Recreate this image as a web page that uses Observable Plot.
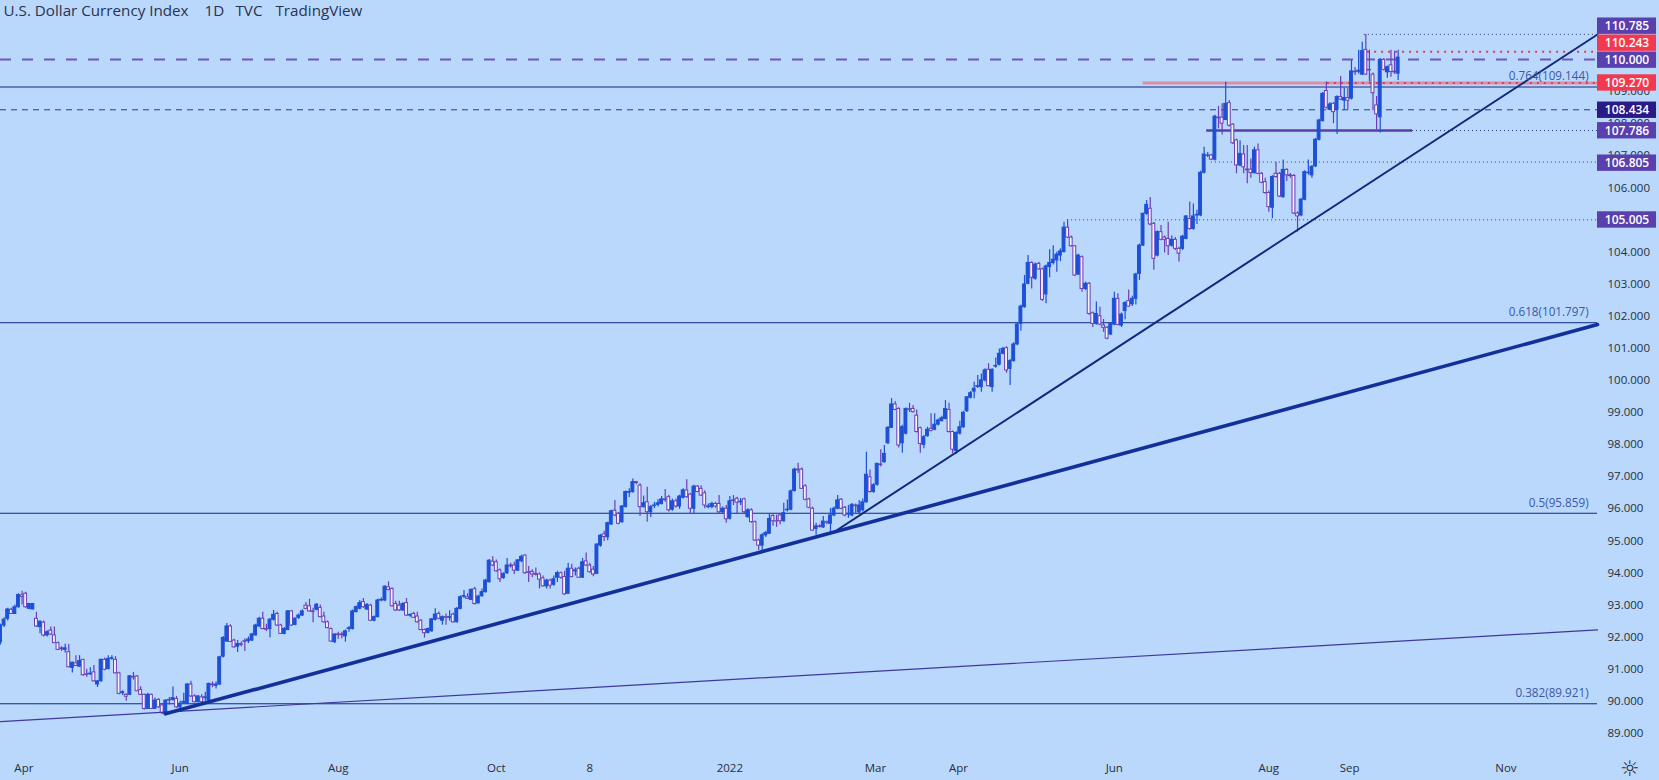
<!DOCTYPE html>
<html>
<head>
<meta charset="utf-8">
<style>html,body{margin:0;padding:0;background:#b9d8fb}svg{display:block}</style>
<script src="https://cdn.jsdelivr.net/npm/d3@7"></script>
<script src="https://cdn.jsdelivr.net/npm/@observablehq/plot@0.6"></script>
</head>
<body>
<div id="chart"></div>
<script>
const opens = [
91.84,92.36,92.57,92.85,92.72,92.93,93.3,93.35,92.88,92.86,
92.57,92.31,92.45,92.05,92.2,92.05,91.81,91.65,91.6,91.53,
91.04,91.18,91.08,91.29,90.84,90.84,90.9,90.52,90.62,91.29,
91.0,91.32,91.29,90.87,90.25,90.2,90.2,90.76,90.77,90.35,
90.2,89.76,90.2,89.76,90.04,89.87,89.6,90.04,90.04,90.07,
89.81,89.95,89.92,90.52,90.15,89.97,90.12,90.1,90.02,90.52,
90.48,90.52,91.39,91.86,92.33,91.89,91.7,91.78,91.87,91.87,
91.89,92.05,92.33,92.57,92.25,92.25,92.54,92.72,92.36,92.1,
92.22,92.8,92.38,92.6,92.67,92.98,92.96,92.8,92.85,92.91,
92.64,92.46,92.25,91.84,92.08,92.08,92.02,92.25,92.25,92.78,
92.88,93.09,92.86,92.98,92.51,92.62,93.14,93.14,93.55,93.5,
93.03,92.98,92.83,93.06,92.67,92.72,92.64,92.51,92.22,92.13,
92.18,92.54,92.72,92.51,92.62,92.6,92.7,92.46,92.88,93.26,
93.24,93.16,93.49,93.05,93.27,93.4,93.71,94.35,94.33,94.08,
93.84,93.99,94.23,94.23,94.07,94.36,94.54,94.02,94.03,93.97,
93.95,93.83,93.58,93.76,93.63,93.85,93.99,93.87,93.35,94.13,
94.05,94.13,93.85,94.36,94.23,94.1,93.97,94.85,95.2,95.11,
95.51,95.94,95.84,95.58,96.05,96.5,96.52,96.83,96.72,96.05,
96.2,95.89,96.08,96.12,96.15,96.29,96.36,95.97,96.23,96.07,
96.34,96.57,96.44,96.0,96.69,96.62,96.48,96.05,96.05,96.15,
96.15,95.89,96.0,95.69,96.26,96.31,96.2,96.29,95.74,95.95,
95.58,95.01,94.85,95.17,95.22,95.77,95.61,95.79,95.61,95.95,
95.97,96.55,97.22,97.22,96.7,96.29,96.0,95.37,95.45,95.42,
95.58,95.53,95.79,96.0,96.28,96.03,95.82,95.79,96.1,95.89,
95.95,96.2,96.98,96.52,96.75,97.38,97.45,98.04,98.52,99.25,
99.11,98.04,98.34,99.1,99.11,98.9,98.51,97.99,98.26,98.49,
98.46,98.62,98.73,98.8,99.08,98.39,97.8,98.34,98.54,99.04,
99.46,99.65,99.8,99.79,100.0,100.33,99.79,100.43,100.49,100.83,
101.0,100.36,100.6,101.12,101.76,102.28,103.01,103.66,103.17,103.63,
103.46,102.68,103.53,103.66,103.74,103.89,104.0,104.76,104.45,104.18,
103.3,103.84,102.85,103.01,102.09,101.76,102.0,101.71,101.64,101.43,
101.74,102.54,101.71,102.16,102.47,102.37,102.54,103.32,104.2,105.19,
105.35,104.88,103.89,104.62,104.45,104.41,104.2,104.38,104.1,104.1,
104.41,105.03,104.72,105.14,105.14,106.47,107.0,107.01,106.88,108.19,
108.19,108.12,108.64,107.97,107.48,106.7,107.04,106.57,106.57,106.46,
107.17,106.44,106.18,105.84,105.38,106.44,106.44,105.71,106.56,106.39,
106.37,105.2,105.14,105.63,106.46,106.39,106.67,107.5,108.08,109.02,
108.43,108.62,108.43,108.83,108.72,108.8,108.78,109.62,109.62,109.53,
110.3,109.68,109.53,108.57,108.2,109.99,109.6,109.82,109.62,109.56];
const closes = [
92.36,92.54,92.86,92.72,92.93,93.31,93.25,92.93,93.03,93.03,
92.33,92.48,92.05,92.15,92.08,91.81,91.6,91.62,91.65,91.06,
91.2,91.1,91.25,90.81,90.82,90.86,90.62,90.62,91.29,90.98,
91.32,91.34,90.87,90.23,90.28,90.14,90.78,90.74,90.31,90.2,
89.76,90.2,89.76,90.02,89.81,89.63,90.02,90.02,90.1,89.81,
89.92,89.98,90.52,90.15,89.97,90.15,89.97,90.12,90.54,90.5,
90.52,91.37,91.97,92.33,91.85,91.68,91.78,91.75,91.85,91.92,
92.08,92.36,92.57,92.25,92.23,92.54,92.69,92.36,92.1,92.25,
92.8,92.36,92.57,92.67,92.8,92.88,92.8,92.78,93.01,92.62,
92.46,92.28,91.86,92.08,92.06,92.06,92.18,92.27,92.8,92.93,
93.06,92.93,93.0,92.51,92.62,93.14,93.16,93.57,93.47,92.96,
92.83,92.83,93.03,92.67,92.69,92.6,92.46,92.22,92.12,92.25,
92.55,92.7,92.57,92.62,92.6,92.62,92.46,92.88,93.24,93.28,
93.19,93.47,93.03,93.26,93.4,93.76,94.38,94.23,94.05,93.8,
93.97,94.23,94.2,94.07,94.39,94.5,93.99,94.0,93.95,93.94,
93.79,93.58,93.76,93.6,93.8,93.99,93.85,93.33,94.13,93.87,
94.08,93.85,94.33,94.23,94.02,93.95,94.88,95.16,95.12,95.55,
95.92,95.79,95.53,96.07,96.52,96.52,96.83,96.8,96.05,96.17,
95.89,96.05,96.1,96.17,96.29,96.27,95.95,96.23,96.07,96.38,
96.57,96.36,96.0,96.69,96.52,96.41,96.1,96.07,96.15,96.07,
95.89,96.0,95.67,96.23,96.24,96.19,96.22,95.89,95.95,95.58,
95.01,94.85,95.17,95.24,95.68,95.61,95.6,95.61,95.86,95.97,
96.54,97.22,97.2,96.62,96.28,96.03,95.32,95.45,95.43,95.6,
95.56,95.79,96.0,96.26,96.0,95.79,95.84,96.12,96.08,96.1,
96.2,97.06,96.52,96.73,97.4,97.36,97.71,98.52,99.25,99.08,
97.97,98.54,99.11,99.08,99.01,98.39,98.02,98.23,98.46,98.42,
98.62,98.75,98.82,99.11,98.39,97.84,98.36,98.54,98.99,99.47,
99.6,99.74,99.82,100.0,100.31,99.82,100.33,100.45,100.83,100.98,
100.31,100.6,101.12,101.74,102.3,102.99,103.66,103.2,103.61,103.46,
102.51,103.55,103.66,103.76,103.92,104.02,104.76,104.45,104.18,103.27,
103.89,102.85,103.01,102.07,101.76,102.07,101.74,101.64,101.3,101.76,
102.54,101.73,102.05,102.41,102.3,102.54,103.3,104.2,105.19,105.47,
104.86,103.79,104.62,104.38,104.38,104.18,104.38,104.1,103.95,104.48,
105.11,104.72,105.11,105.16,106.47,107.04,107.01,106.88,108.22,108.17,
108.0,108.62,107.94,107.39,106.7,107.06,106.64,106.55,106.46,107.17,
106.44,106.16,105.84,105.4,106.34,106.34,105.73,106.56,106.39,106.37,
105.2,105.11,105.63,106.49,106.47,106.65,107.5,108.1,108.93,108.5,
108.6,108.36,108.83,108.75,108.8,108.72,109.63,109.6,109.65,110.26,
109.53,109.66,108.95,108.29,109.99,109.68,109.76,109.61,109.6,110.06];
const highs = [
92.4,92.6,92.9,92.9,93.0,93.35,93.43,93.4,93.05,93.05,
92.77,92.5,92.5,92.2,92.31,92.31,91.85,91.7,91.78,91.77,
91.22,91.42,91.42,91.3,91.0,91.04,91.11,90.65,91.32,91.35,
91.42,91.42,91.39,90.9,90.33,90.23,90.8,90.9,90.8,90.45,
90.22,90.25,90.22,90.1,90.08,89.9,90.05,90.12,90.44,90.15,
90.0,90.25,90.55,90.62,90.2,90.18,90.2,90.28,90.57,90.6,
90.6,91.4,92.02,92.42,92.38,91.93,91.89,91.85,91.95,92.0,
92.12,92.4,92.62,92.77,92.4,92.58,92.83,92.77,92.4,92.3,
92.83,92.83,92.6,92.72,92.85,93.08,93.18,92.9,93.05,93.0,
92.77,92.5,92.28,92.1,92.15,92.15,92.22,92.33,92.84,92.97,
93.14,93.2,93.05,93.02,92.66,93.18,93.22,93.6,93.72,93.53,
93.12,93.12,93.07,93.2,92.72,92.77,92.77,92.54,92.25,92.28,
92.58,92.88,92.78,92.66,92.72,92.82,92.74,92.92,93.28,93.45,
93.35,93.5,93.55,93.3,93.5,93.8,94.42,94.5,94.4,94.12,
94.0,94.45,94.3,94.33,94.42,94.55,94.56,94.2,94.1,94.15,
94.0,93.9,93.8,93.8,93.9,94.05,94.03,94.05,94.3,94.27,
94.15,94.18,94.45,94.62,94.3,94.2,94.92,95.2,95.3,95.58,
95.95,96.26,95.88,96.1,96.55,96.62,96.93,96.85,96.78,96.4,
96.67,96.1,96.2,96.28,96.38,96.6,96.42,96.3,96.3,96.42,
96.62,96.9,96.48,96.73,96.72,96.72,96.55,96.15,96.2,96.2,
96.41,96.05,96.1,96.38,96.41,96.36,96.32,96.33,96.0,96.0,
95.62,95.05,95.22,95.3,95.85,95.82,95.8,95.85,96.17,96.27,
96.58,97.26,97.42,97.27,96.75,96.33,96.05,95.55,95.5,95.76,
95.62,96.0,96.05,96.41,96.32,96.07,96.1,96.16,96.15,96.26,
96.3,97.76,97.21,96.78,97.42,97.84,97.97,98.56,99.43,99.34,
99.15,98.6,99.14,99.29,99.22,99.08,98.55,98.28,98.54,98.96,
98.96,98.8,98.88,99.37,99.29,98.42,98.4,98.73,99.03,99.5,
99.65,99.94,100.15,100.2,100.36,100.52,100.36,100.7,100.98,101.03,
101.05,100.65,101.17,101.78,102.34,103.27,103.89,103.7,103.66,103.68,
103.5,103.6,104.07,104.2,104.0,104.1,104.93,105.01,104.5,104.2,
103.93,103.88,103.06,103.05,102.13,102.44,102.28,101.9,101.68,101.8,
102.75,102.7,102.1,102.45,102.82,102.62,103.34,104.25,105.22,105.61,
105.7,104.92,104.66,104.83,104.5,104.93,104.5,104.45,104.15,104.52,
105.14,105.56,105.5,105.3,106.52,107.27,107.1,107.05,108.26,108.54,
108.62,109.29,108.72,108.0,107.52,107.47,107.32,107.32,106.9,107.27,
107.37,106.48,106.3,105.9,106.38,106.8,106.48,106.87,106.6,106.45,
106.42,105.25,105.67,106.53,106.87,106.7,107.54,108.14,108.97,109.3,
108.65,108.66,108.87,109.47,109.1,109.1,109.97,109.75,110.29,110.54,
110.78,110.29,109.58,108.85,110.03,110.03,109.8,110.29,110.26,110.29];
const lows = [
91.75,92.3,92.5,92.7,92.7,92.9,93.0,92.9,92.85,92.85,
92.3,92.1,92.0,92.0,92.05,91.8,91.58,91.55,91.5,91.04,
90.88,91.08,91.05,90.78,90.75,90.8,90.6,90.43,90.6,90.95,
90.98,91.28,90.85,90.2,90.18,90.0,90.18,90.66,90.3,90.18,
89.72,89.74,89.74,89.74,89.78,89.58,89.55,89.88,90.0,89.78,
89.7,89.9,89.9,90.12,89.95,89.95,89.95,90.0,90.0,90.42,
90.38,90.5,91.35,91.84,91.83,91.65,91.52,91.7,91.55,91.8,
91.87,92.03,92.3,92.23,92.17,91.98,92.5,92.33,92.08,92.07,
92.2,92.33,92.35,92.55,92.64,92.85,92.78,92.45,92.82,92.6,
92.43,92.26,91.84,91.8,91.93,91.95,91.84,92.15,92.22,92.75,
92.85,92.9,92.83,92.49,92.48,92.6,93.1,93.1,93.44,92.94,
92.8,92.8,92.8,92.65,92.62,92.58,92.44,92.2,91.97,92.1,
92.15,92.5,92.54,92.37,92.37,92.5,92.44,92.44,92.85,93.2,
93.17,93.14,93.0,93.03,93.25,93.37,93.68,94.2,94.02,93.7,
93.8,93.95,94.15,93.95,94.05,94.32,93.96,93.7,93.85,93.9,
93.5,93.56,93.5,93.5,93.58,93.7,93.8,93.3,93.33,93.85,
93.9,93.83,93.83,94.2,94.0,93.88,93.95,94.8,94.98,95.0,
95.48,95.75,95.5,95.55,96.02,96.35,96.48,96.75,95.76,96.02,
95.58,95.73,96.0,96.05,96.12,96.2,95.9,95.92,96.02,95.98,
96.3,96.33,95.83,95.83,96.5,96.38,96.0,96.0,96.0,96.02,
95.85,95.85,95.55,95.65,96.1,95.84,96.1,95.85,95.7,95.55,
94.98,94.7,94.64,95.1,95.2,95.45,95.42,95.5,95.58,95.9,
95.94,96.52,97.1,96.6,96.25,96.0,95.3,95.17,95.4,95.38,
95.5,95.27,95.75,95.97,95.97,95.75,95.7,95.75,95.82,95.85,
95.9,96.17,96.49,96.48,96.7,97.3,97.42,98.0,98.5,99.05,
97.89,97.73,98.3,99.0,98.98,98.36,97.73,97.87,98.23,98.4,
98.43,98.58,98.7,98.77,98.36,97.71,97.7,98.3,98.5,99.0,
99.42,99.43,99.75,99.63,99.95,99.8,99.63,100.38,100.45,100.8,
100.22,99.84,100.57,101.08,101.53,102.25,102.98,102.85,103.12,103.43,
102.46,102.39,103.2,103.6,103.37,103.7,103.97,104.42,104.15,103.24,
103.27,102.75,102.8,102.03,101.65,101.72,101.7,101.5,101.27,101.4,
101.7,101.7,101.65,101.89,102.28,102.3,102.35,103.11,104.17,105.15,
104.82,103.43,103.85,104.35,103.97,103.89,104.15,104.05,103.69,104.05,
104.38,104.68,104.68,104.86,105.1,106.43,106.95,106.85,106.84,107.84,
107.65,108.1,107.9,107.35,106.44,106.66,106.44,106.13,106.3,106.43,
106.41,106.13,105.8,105.24,105.04,106.3,105.7,105.68,106.2,106.3,
105.16,104.62,105.1,105.6,106.4,106.3,106.63,107.46,108.05,108.46,
108.4,108.0,107.66,108.72,108.42,108.42,108.74,109.5,109.55,109.5,
109.5,109.3,108.4,107.81,107.71,109.64,109.42,109.45,109.53,109.35];

// time axis: bar index of each label
const tickBars = [6.5,50,94,138,164,203,243.5,266.6,310,353,375.5,419];
const tickNames = ["Apr","Jun","Aug","Oct","8","2022","Mar","Apr","Jun","Aug","Sep","Nov"];
const priceTicks = [89,90,91,92,93,94,95,96,97,98,99,100,101,102,103,104,105,106,107,108,109,110];

// fibonacci retracement levels
const fibValues = [89.921,95.859,101.797,109.144];
const fibNames = ["0.382(89.921)","0.5(95.859)","0.618(101.797)","0.764(109.144)"];

// price-axis tags
const tagNames = ["110.785","110.243","110.000","109.270","108.434","107.786","106.805","105.005"];
const tagSlots = [111.04,110.51,109.98,109.27,108.42,107.78,106.77,105.0];
const tagFills = ["#5a3fae","#f2394f","#5a3fae","#f2394f","#2a1a88","#5a3fae","#5a3fae","#5a3fae"];

const edge = 444.48;   // last bar index at the right side of the pane
const tagEnd = 460.9;

// horizontal drawings: [from bar, level]
const dotted = [[379.6,110.785],[393,107.786],[337,106.805],[297,105.005]];
const redDotted = [[380.5,110.243],[369.3,109.27]];

// trend lines: [bar, price]
const trendThick = [[45.9,89.607],[edge,101.74]];
const trendMid = [[231.8,95.26],[edge,110.78]];
const trendThin = [[0,89.367],[edge,92.225]];

const font = "'Open Sans', sans-serif";
const candles = opens.map((o,i)=>({i,o,c:closes[i],h:highs[i],l:lows[i]}));
const up = candles.filter(d=>d.c>=d.o), dn = candles.filter(d=>d.c<d.o);
const blue = "#1d50d6", violet = "#6c3db5";

const candleMarks = (rows,stroke,fill) => [
  Plot.ruleX(rows,{x:"i",y1:"l",y2:"h",stroke,strokeWidth:1.2}),
  Plot.rect(rows,{x1:d=>d.i-0.4,x2:d=>d.i+0.4,y1:"o",y2:"c",fill,stroke,strokeWidth:1})
];

const chart = Plot.plot({
  width:1659,height:780,
  marginLeft:0,marginRight:62,marginTop:0,marginBottom:26,
  style:{background:"#b9d8fb",fontFamily:font},
  x:{domain:[0,edge],axis:null},
  y:{domain:[88.34,111.84],axis:null},
  marks:[
    Plot.axisX({ticks:tickBars,tickFormat:d=>tickNames[tickBars.indexOf(d)],tickSize:0,tickPadding:9,fontSize:11.5,color:"#2a2e39",label:null}),
    Plot.axisY({anchor:"right",ticks:priceTicks,tickFormat:d3.format(".3f"),tickSize:0,tickPadding:10,fontSize:11.5,color:"#2a2e39",label:null}),
    Plot.ruleY(fibValues,{x1:0,x2:edge,stroke:"#0e2a86",strokeWidth:1}),
    Plot.ruleY([110],{x1:0,x2:edge,stroke:"#6f58bd",strokeWidth:2,strokeDasharray:"11 11"}),
    Plot.ruleY([108.434],{x1:0,x2:edge,stroke:"#2b3a88",strokeWidth:1,strokeDasharray:"6 5"}),
    Plot.ruleY(dotted,{x1:d=>d[0],x2:edge,y:d=>d[1],stroke:"#2c3a78",strokeWidth:1,strokeDasharray:"1 3"}),
    Plot.ruleY([109.27],{x1:318,x2:edge,stroke:"#d98fa6",strokeWidth:3}),
    Plot.ruleY(redDotted,{x1:d=>d[0],x2:edge,y:d=>d[1],stroke:"#e23a58",strokeWidth:2,strokeDasharray:"2 5"}),
    Plot.ruleY([107.786],{x1:335.7,x2:393,stroke:"#5a3ea8",strokeWidth:2.4}),
    ...candleMarks(dn,violet,"#f2f4fd"),
    ...candleMarks(up,blue,blue),
    Plot.line(trendThin,{stroke:"#40389a",strokeWidth:1.2}),
    Plot.line(trendMid,{stroke:"#10297f",strokeWidth:2}),
    Plot.line(trendThick,{stroke:"#12309a",strokeWidth:3.6}),
    Plot.text(fibNames,{text:d=>d,x:442,y:(d,i)=>fibValues[i],dy:-10.5,textAnchor:"end",fontSize:11.7,fill:"#3a58a8"}),
    Plot.rect(tagNames,{x1:edge,x2:tagEnd,y1:(d,i)=>tagSlots[i]-0.255,y2:(d,i)=>tagSlots[i]+0.255,fill:(d,i)=>tagFills[i]}),
    Plot.text(tagNames,{text:d=>d,x:(edge+tagEnd)/2,y:(d,i)=>tagSlots[i],fill:"white",fontSize:12,fontWeight:600}),
    ...[["U.S. Dollar Currency Index",3],["1D",204],["TVC",235],["TradingView",275]].map(([t,dx])=>
      Plot.text([t],{text:d=>d,frameAnchor:"top-left",dx,dy:5,fontSize:15.2,fill:"#2a3350",textAnchor:"start",lineAnchor:"top"})),
    Plot.text(["☼"],{text:d=>d,x:edge+9,frameAnchor:"bottom",dy:14,lineAnchor:"middle",fontSize:22,fill:"#2a2e39",fontFamily:"DejaVu Sans"})
  ]
});
document.getElementById("chart").append(chart);
</script>
</body>
</html>
